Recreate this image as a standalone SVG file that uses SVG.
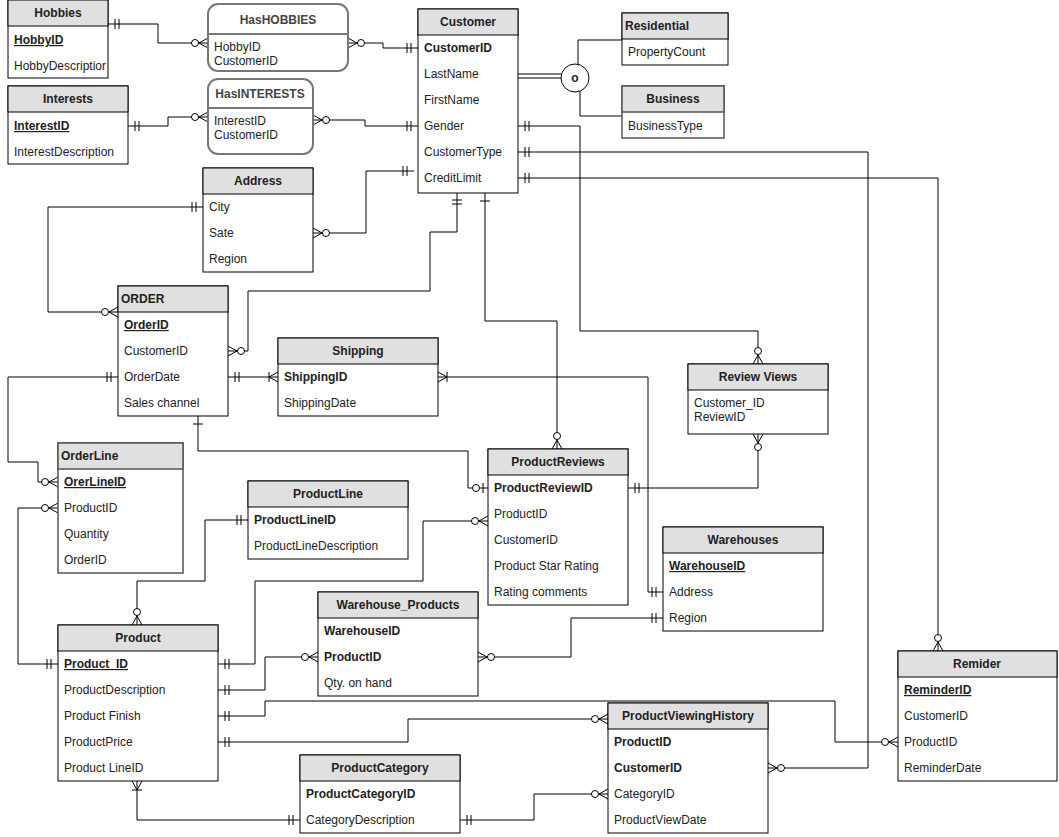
<svg xmlns="http://www.w3.org/2000/svg" width="1059" height="837" viewBox="0 0 1059 837">
<style>
text{font-family:"Liberation Sans",Arial,sans-serif;font-size:12px;fill:#222}
.h{font-weight:bold;text-anchor:middle}
.hl{font-weight:bold}
.k{font-weight:bold}
.u{text-decoration:underline}
.box{fill:#fff;stroke:#000;stroke-width:1}
.hd{fill:#e0e0e0;stroke:#000;stroke-width:1}
.rb{fill:#fff;stroke:#777;stroke-width:2}
.rh{fill:#f4f4f4;stroke:#777;stroke-width:2}
.c path{fill:none;stroke:#000;stroke-width:1}
.m{fill:none;stroke:#000;stroke-width:1}
</style>
<defs>
<marker id="one" markerUnits="userSpaceOnUse" markerWidth="24" markerHeight="16" viewBox="0 -8 24 16" refX="20" refY="0" orient="auto-start-reverse"><path class="m" d="M9,-5V5M13,-5V5"/></marker>
<marker id="zm" markerUnits="userSpaceOnUse" markerWidth="24" markerHeight="16" viewBox="0 -8 24 16" refX="20" refY="0" orient="auto-start-reverse"><path class="m" d="M11,0L20,-5M11,0L20,5"/><circle cx="7" cy="0" r="3.5" fill="#fff" stroke="#000"/></marker>
<marker id="om" markerUnits="userSpaceOnUse" markerWidth="24" markerHeight="16" viewBox="0 -8 24 16" refX="20" refY="0" orient="auto-start-reverse"><path class="m" d="M11,-5V5M11,0L20,-5M11,0L20,5"/></marker>
<marker id="zo" markerUnits="userSpaceOnUse" markerWidth="24" markerHeight="16" viewBox="0 -8 24 16" refX="20" refY="0" orient="auto-start-reverse"><path class="m" d="M15,-5V5"/><circle cx="8" cy="0" r="3.5" fill="#fff" stroke="#000"/></marker>
<marker id="on" markerUnits="userSpaceOnUse" markerWidth="24" markerHeight="16" viewBox="0 -8 24 16" refX="20" refY="0" orient="auto-start-reverse"><path class="m" d="M12,-5V5"/></marker>
</defs>
<g class="c" id="connectors">
<path d="M108,24H158V43H208" marker-start="url(#one)" marker-end="url(#zm)"/>
<path d="M348,43H383V48H418" marker-start="url(#zm)" marker-end="url(#one)"/>
<path d="M128,126H168V117H208" marker-start="url(#one)" marker-end="url(#zm)"/>
<path d="M313,120H365V126H418" marker-start="url(#zm)" marker-end="url(#one)"/>
<path d="M313,233H366V171H414" marker-start="url(#zm)" marker-end="url(#one)"/>
<path d="M203,207H48V312H118" marker-start="url(#one)" marker-end="url(#zm)"/>
<path d="M457,193V232H430V291H248V351H228" marker-start="url(#one)" marker-end="url(#zm)"/>
<path d="M485,193V321H557V449" marker-start="url(#on)" marker-end="url(#zm)"/>
<path d="M518,126H580V331H758V364" marker-start="url(#one)" marker-end="url(#zm)"/>
<path d="M518,152H868V768H768" marker-start="url(#one)" marker-end="url(#zm)"/>
<path d="M518,178H938V651" marker-start="url(#one)" marker-end="url(#zm)"/>
<path d="M518,74H562M518,78H562M578,65V40H622M580,91V116H622"/>
<circle cx="575" cy="78" r="14" fill="#fff" stroke="#000"/>
<text x="575" y="82" style="font-weight:bold;text-anchor:middle">o</text>
<path d="M228,377H278" marker-start="url(#one)" marker-end="url(#om)"/>
<path d="M438,377H648V592H663" marker-start="url(#om)" marker-end="url(#one)"/>
<path d="M118,377H8V462H38V482H58" marker-start="url(#one)" marker-end="url(#zm)"/>
<path d="M198,416V451H468V488H488" marker-start="url(#on)" marker-end="url(#zo)"/>
<path d="M628,488H758V434" marker-start="url(#one)" marker-end="url(#zm)"/>
<path d="M58,508H18V664H58" marker-start="url(#zm)" marker-end="url(#one)"/>
<path d="M248,520H205V581H137V625" marker-start="url(#one)" marker-end="url(#zm)"/>
<path d="M488,521H423V581H255V664H218" marker-start="url(#zm)" marker-end="url(#one)"/>
<path d="M218,690H265V657H318" marker-start="url(#one)" marker-end="url(#zm)"/>
<path d="M478,657H571V618H663" marker-start="url(#zm)" marker-end="url(#one)"/>
<path d="M218,716H265V701H835V742H898" marker-start="url(#one)" marker-end="url(#zm)"/>
<path d="M218,742H408V719H608" marker-start="url(#one)" marker-end="url(#zm)"/>
<path d="M137,781V820H300" marker-start="url(#om)" marker-end="url(#one)"/>
<path d="M460,820H534V794H608" marker-start="url(#one)" marker-end="url(#zm)"/>
</g>
<g id="Hobbies"><rect class="box" x="8" y="0" width="100" height="78"/><rect class="hd" x="8" y="0" width="100" height="26"/><text class="h" x="58" y="17">Hobbies</text><text class="k u" x="14" y="44">HobbyID</text><text x="14" y="70">HobbyDescriptior</text></g>
<g id="HasHOBBIES"><rect class="rb" x="208" y="4" width="140" height="67" rx="10"/><path d="M208,34H348" stroke="#777" stroke-width="2"/><text class="h" x="278" y="24" style="fill:#444">HasHOBBIES</text><text x="214" y="51">HobbyID</text><text x="214" y="65">CustomerID</text></g>
<g id="Customer"><rect class="box" x="418" y="9" width="100" height="184"/><rect class="hd" x="418" y="9" width="100" height="26"/><text class="h" x="468" y="26">Customer</text><text class="k" x="424" y="52">CustomerID</text><text x="424" y="78">LastName</text><text x="424" y="104">FirstName</text><text x="424" y="130">Gender</text><text x="424" y="156">CustomerType</text><text x="424" y="182">CreditLimit</text></g>
<g id="Residential"><rect class="box" x="622" y="13" width="106" height="52"/><rect class="hd" x="622" y="13" width="106" height="26"/><text class="hl" x="625" y="30">Residential</text><text x="628" y="56">PropertyCount</text></g>
<g id="Business"><rect class="box" x="622" y="86" width="102" height="52" style="stroke:#555;stroke-width:1.5"/><rect class="hd" x="622" y="86" width="102" height="26" style="stroke:#555;stroke-width:1.5"/><text class="h" x="673" y="103">Business</text><text x="628" y="130">BusinessType</text></g>
<g id="Interests"><rect class="box" x="8" y="86" width="120" height="78"/><rect class="hd" x="8" y="86" width="120" height="26"/><text class="h" x="68" y="103">Interests</text><text class="k u" x="14" y="130">InterestID</text><text x="14" y="156">InterestDescription</text></g>
<g id="HasINTERESTS"><rect class="rb" x="208" y="79" width="105" height="75" rx="10"/><path d="M208,108H313" stroke="#777" stroke-width="2"/><text class="h" x="260" y="98" style="fill:#444">HasINTERESTS</text><text x="214" y="125">InterestID</text><text x="214" y="139">CustomerID</text></g>
<g id="Address"><rect class="box" x="203" y="168" width="110" height="104"/><rect class="hd" x="203" y="168" width="110" height="26"/><text class="h" x="258" y="185">Address</text><text x="209" y="211">City</text><text x="209" y="237">Sate</text><text x="209" y="263">Region</text></g>
<g id="ORDER"><rect class="box" x="118" y="286" width="110" height="130"/><rect class="hd" x="118" y="286" width="110" height="26"/><text class="hl" x="121" y="303">ORDER</text><text class="k u" x="124" y="329">OrderID</text><text x="124" y="355">CustomerID</text><text x="124" y="381">OrderDate</text><text x="124" y="407">Sales channel</text></g>
<g id="Shipping"><rect class="box" x="278" y="338" width="160" height="78"/><rect class="hd" x="278" y="338" width="160" height="26"/><text class="h" x="358" y="355">Shipping</text><text class="k" x="284" y="381">ShippingID</text><text x="284" y="407">ShippingDate</text></g>
<g id="ReviewViews"><rect class="box" x="688" y="364" width="140" height="70"/><rect class="hd" x="688" y="364" width="140" height="26"/><text class="h" x="758" y="381">Review Views</text><text x="694" y="407">Customer_ID</text><text x="694" y="421">ReviewID</text></g>
<g id="OrderLine"><rect class="box" x="58" y="443" width="125" height="130" style="stroke:#555;stroke-width:1.5"/><rect class="hd" x="58" y="443" width="125" height="26" style="stroke:#555;stroke-width:1.5"/><text class="hl" x="61" y="460">OrderLine</text><text class="k u" x="64" y="486">OrerLineID</text><text x="64" y="512">ProductID</text><text x="64" y="538">Quantity</text><text x="64" y="564">OrderID</text></g>
<g id="ProductLine"><rect class="box" x="248" y="481" width="160" height="78"/><rect class="hd" x="248" y="481" width="160" height="26"/><text class="h" x="328" y="498">ProductLine</text><text class="k" x="254" y="524">ProductLineID</text><text x="254" y="550">ProductLineDescription</text></g>
<g id="ProductReviews"><rect class="box" x="488" y="449" width="140" height="156"/><rect class="hd" x="488" y="449" width="140" height="26"/><text class="h" x="558" y="466">ProductReviews</text><text class="k" x="494" y="492">ProductReviewID</text><text x="494" y="518">ProductID</text><text x="494" y="544">CustomerID</text><text x="494" y="570">Product Star Rating</text><text x="494" y="596">Rating comments</text></g>
<g id="Warehouses"><rect class="box" x="663" y="527" width="160" height="104"/><rect class="hd" x="663" y="527" width="160" height="26"/><text class="h" x="743" y="544">Warehouses</text><text class="k u" x="669" y="570">WarehouseID</text><text x="669" y="596">Address</text><text x="669" y="622">Region</text></g>
<g id="Warehouse_Products"><rect class="box" x="318" y="592" width="160" height="104"/><rect class="hd" x="318" y="592" width="160" height="26"/><text class="h" x="398" y="609">Warehouse_Products</text><text class="k" x="324" y="635">WarehouseID</text><text class="k" x="324" y="661">ProductID</text><text x="324" y="687">Qty. on hand</text></g>
<g id="Product"><rect class="box" x="58" y="625" width="160" height="156"/><rect class="hd" x="58" y="625" width="160" height="26"/><text class="h" x="138" y="642">Product</text><text class="k u" x="64" y="668">Product_ID</text><text x="64" y="694">ProductDescription</text><text x="64" y="720">Product Finish</text><text x="64" y="746">ProductPrice</text><text x="64" y="772">Product LineID</text></g>
<g id="ProductCategory"><rect class="box" x="300" y="755" width="160" height="78"/><rect class="hd" x="300" y="755" width="160" height="26"/><text class="h" x="380" y="772">ProductCategory</text><text class="k" x="306" y="798">ProductCategoryID</text><text x="306" y="824">CategoryDescription</text></g>
<g id="ProductViewingHistory"><rect class="box" x="608" y="703" width="160" height="130"/><rect class="hd" x="608" y="703" width="160" height="26"/><text class="h" x="688" y="720">ProductViewingHistory</text><text class="k" x="614" y="746">ProductID</text><text class="k" x="614" y="772">CustomerID</text><text x="614" y="798">CategoryID</text><text x="614" y="824">ProductViewDate</text></g>
<g id="Remider"><rect class="box" x="898" y="651" width="159" height="130"/><rect class="hd" x="898" y="651" width="159" height="26"/><text class="h" x="977" y="668">Remider</text><text class="k u" x="904" y="694">ReminderID</text><text x="904" y="720">CustomerID</text><text x="904" y="746">ProductID</text><text x="904" y="772">ReminderDate</text></g>
</svg>
